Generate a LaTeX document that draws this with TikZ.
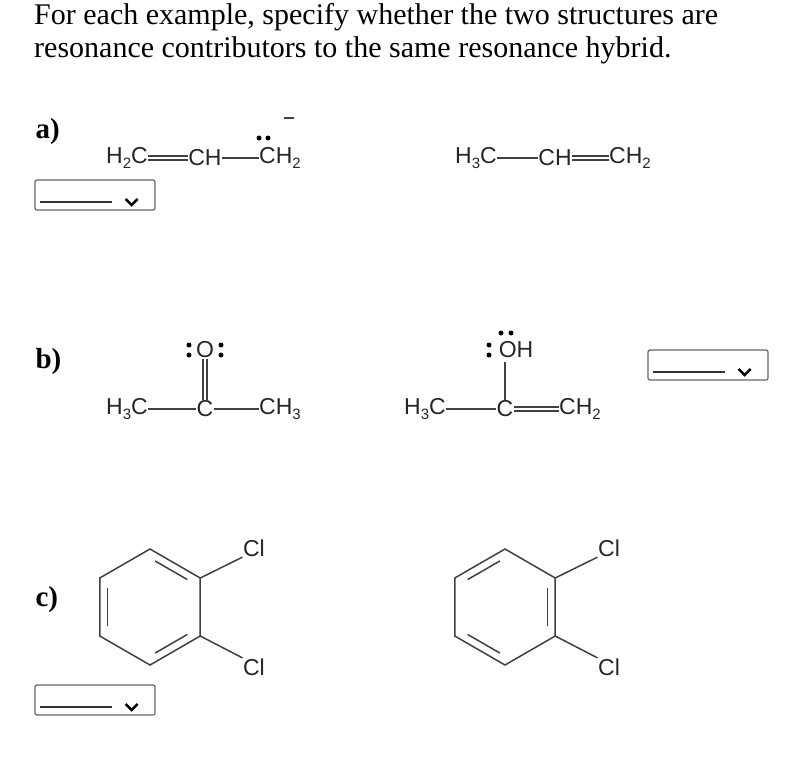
\documentclass[tikz,border=0pt]{standalone}
\usepackage{fontspec}
\setmainfont{Liberation Serif}
\setsansfont{Liberation Sans}
\usetikzlibrary{calc}
\newcommand{\sbs}[1]{\raisebox{-0.35ex}{\fontsize{15}{15}\selectfont #1}}
\begin{document}
\begin{tikzpicture}[x=1pt,y=-1pt,
  atom/.style={font=\sffamily\fontsize{23}{23}\selectfont,inner sep=0.5pt,text=black!85},
  bond/.style={line width=1.5pt,black!75},
  lab/.style={font=\bfseries\fontsize{29}{29}\selectfont,anchor=west},
  dd/.style={draw=black!60,line width=1.2pt,rounded corners=2pt,minimum width=120,minimum height=30,inner sep=0},
  dot/.style={circle,fill=black,inner sep=0,minimum size=5pt}]
\useasboundingbox (0,0) rectangle (800,766);
\node[anchor=north west,align=left,font=\fontsize{30}{33}\selectfont,inner sep=0] (title) at (34,3) {For each example, specify whether the two structures are\\resonance contributors to the same resonance hybrid.};
\node[lab] (la) at (32,132) {a)};
\node[lab] (lb) at (32,362) {b)};
\node[lab] (lc) at (32,600) {c)};
% dropdowns
\foreach \n/\x/\y in {da/95/195,db/708/365,dc/95/700}{
  \node[dd] (\n) at (\x,\y) {};
  \draw[line width=1.2pt,black!80] ([xshift=6,yshift=-7]\n.west) -- ++(72,0);
  \draw[line width=2.6pt] ([xshift=-30,yshift=-4]\n.east) -- ++(6,6) -- ++(6,-6);
}
% a) left
\node[atom] (a1) at (127,158) {H\sbs{2}C};
\node[atom] (a2) at (205,158) {CH};
\node[atom] (a3) at (280,158) {CH\sbs{2}};
\draw[bond,double,double distance=2.5pt] (a1.east) -- (a2.west);
\draw[bond] (a2.east) -- (a3.west);
\node[dot] (ad1) at (259,138) {}; \node[dot] (ad2) at (268,138) {};
\draw[bond] (284,118) -- (294,118);
% a) right
\node[atom] (a4) at (476,158) {H\sbs{3}C};
\node[atom] (a5) at (555,158) {CH};
\node[atom] (a6) at (630,158) {CH\sbs{2}};
\draw[bond] (a4.east) -- (a5.west);
\draw[bond,double,double distance=2.5pt] (a5.east) -- (a6.west);
% b) left
\node[atom] (b1) at (127,409) {H\sbs{3}C};
\node[atom] (b2) at (205,409) {C};
\node[atom] (b3) at (280,409) {CH\sbs{3}};
\node[atom] (bo) at (205,350) {O};
\draw[bond] (b1.east) -- (b2.west);
\draw[bond] (b2.east) -- (b3.west);
\draw[bond,double,double distance=2.5pt] (bo.south) -- (b2.north);
\foreach \xx in {189,221}{\node[dot] at (\xx,345) {}; \node[dot] at (\xx,355) {};}
% b) right
\node[atom] (c1) at (425,409) {H\sbs{3}C};
\node[atom] (c2) at (505,409) {C};
\node[atom] (c3) at (580,409) {CH\sbs{2}};
\node[atom] (co) at (516,350) {OH};
\draw[bond] (c1.east) -- (c2.west);
\draw[bond,double,double distance=2.5pt] (c2.east) -- (c3.west);
\draw[bond] (505,362) -- (c2.north);
\node[dot] at (489,345) {}; \node[dot] at (489,355) {};
\node[dot] at (501,333) {}; \node[dot] at (511,333) {};
% c) rings
\foreach \cx/\p in {150/L,505/R}{
  \foreach \i/\a in {1/90,2/30,3/-30,4/-90,5/-150,6/150}{
    \coordinate (\p\i) at ({\cx+58*cos(\a)},{607-58*sin(\a)});
    \coordinate (\p I\i) at ({\cx+49*cos(\a)},{607-49*sin(\a)});}
  \draw[bond] (\p1)--(\p2)--(\p3)--(\p4)--(\p5)--(\p6)--cycle;
  \node[atom] (\p cl1) at ({\cx+104},548) {Cl};
  \node[atom] (\p cl2) at ({\cx+104},667) {Cl};
  \draw[bond] (\p2) -- (\p cl1.south west);
  \draw[bond] (\p3) -- (\p cl2.north west);
}
\foreach \p/\a/\b in {L/1/2,L/5/6,L/3/4,R/6/1,R/2/3,R/4/5}
  \draw[bond] ($(\p I\a)!0.12!(\p I\b)$) -- ($(\p I\b)!0.12!(\p I\a)$);
\end{tikzpicture}
\end{document}
